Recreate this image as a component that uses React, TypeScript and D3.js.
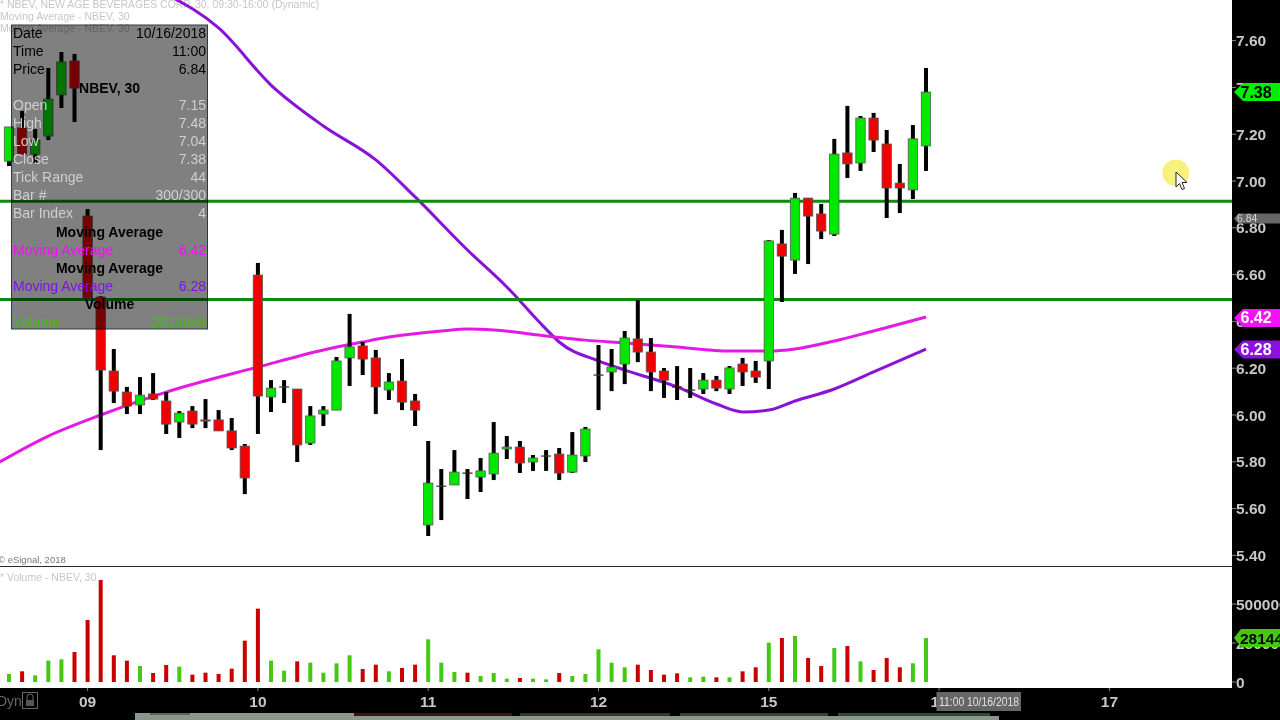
import React from "react";
import * as d3 from "d3";

const opens = [7.085,7.227,7.115,7.192,7.368,7.513,6.850,6.504,6.188,6.098,6.043,6.090,6.060,5.970,6.017,5.979,5.979,5.932,5.867,6.598,6.077,6.120,6.111,5.880,6.004,6.021,6.244,6.295,6.244,6.107,6.145,6.060,5.530,5.696,5.701,5.752,5.735,5.748,5.855,5.863,5.799,5.825,5.833,5.756,5.825,6.171,6.184,6.218,6.325,6.269,6.188,6.120,6.107,6.111,6.149,6.111,6.218,6.188,6.231,6.731,6.662,6.927,6.859,6.773,7.120,7.077,7.269,7.158,6.991,6.962,7.150];
const closes = [7.231,7.115,7.175,7.350,7.509,7.397,6.500,6.192,6.102,6.038,6.085,6.068,5.961,6.008,5.961,5.974,5.932,5.859,5.731,6.081,6.115,6.120,5.872,5.996,6.021,6.231,6.291,6.239,6.120,6.141,6.055,6.021,5.709,5.696,5.756,5.750,5.761,5.837,5.863,5.795,5.816,5.825,5.752,5.829,5.940,6.171,6.205,6.329,6.269,6.184,6.149,6.118,6.107,6.149,6.115,6.201,6.184,6.162,6.744,6.679,6.927,6.850,6.786,7.115,7.073,7.269,7.175,6.970,6.970,7.180,7.380];
const highs = [7.231,7.299,7.222,7.483,7.551,7.543,6.880,6.508,6.282,6.120,6.162,6.179,6.098,6.017,6.038,6.068,6.021,5.987,5.876,6.650,6.149,6.149,6.111,6.038,6.038,6.248,6.432,6.312,6.278,6.179,6.239,6.090,5.889,5.769,5.850,5.769,5.816,5.970,5.910,5.889,5.829,5.850,5.859,5.927,5.949,6.299,6.282,6.359,6.491,6.329,6.201,6.209,6.201,6.179,6.167,6.209,6.244,6.231,6.748,6.791,6.949,6.927,6.902,7.180,7.321,7.278,7.291,7.218,7.073,7.239,7.483];
const lows = [7.064,7.115,7.077,7.175,7.312,7.252,6.500,5.850,6.051,6.004,6.004,6.064,5.919,5.902,5.944,5.944,5.932,5.850,5.662,5.919,6.013,6.051,5.799,5.872,5.953,6.021,6.124,6.171,6.004,6.064,6.021,5.953,5.483,5.551,5.701,5.641,5.671,5.722,5.812,5.752,5.761,5.761,5.722,5.752,5.799,6.021,6.102,6.132,6.226,6.102,6.073,6.064,6.073,6.090,6.102,6.090,6.124,6.137,6.111,6.483,6.603,6.645,6.752,6.765,7.013,7.043,7.124,6.842,6.863,6.923,7.043];
const volumes = [513,684,427,1368,1453,1923,3975,6539,1710,1368,1026,577,1090,983,470,598,513,855,2650,4701,1368,727,1325,1239,598,1197,1710,833,1111,684,898,1111,2735,1239,641,598,385,577,214,256,214,171,577,385,513,2094,1239,940,1111,769,470,556,299,342,299,299,684,940,2522,2821,2949,1539,1026,2180,2308,1325,769,1539,940,1197,2814].map((v) => v * 1000);

const maFastBars = [-1,3,7,12,19,24,27,29,33,35,37,41,44,47,51,55,58,60,63,66,70];
const maFast = [5.790,5.910,6.000,6.098,6.205,6.278,6.312,6.333,6.359,6.367,6.363,6.338,6.320,6.308,6.291,6.273,6.273,6.282,6.316,6.359,6.419];
const maSlowBars = [12,16,20,24,28,31,35,38,41,42,45,47,51,54,56,58,60,63,66,70];
const maSlow = [7.799,7.654,7.410,7.235,7.090,6.932,6.705,6.547,6.367,6.312,6.231,6.192,6.120,6.047,6.013,6.021,6.060,6.111,6.184,6.282];

const levels = [6.913, 6.494];
const priceTicks = [5.4,5.6,5.8,6.0,6.2,6.4,6.6,6.8,7.0,7.2,7.4,7.6];
const volumeTicks = [0, 2500000, 5000000];
const dayLabels = ["09","10","11","12","15","16","17"];
const dayBars = [6,19,32,45,58,71,84];

const infoRows = [
  { label: "Date", value: "10/16/2018", color: "#000", row: 33 },
  { label: "Time", value: "11:00", color: "#000", row: 51 },
  { label: "Price", value: "6.84", color: "#000", row: 69 },
  { label: "Open", value: "7.15", color: "#cfcfcf", row: 105 },
  { label: "High", value: "7.48", color: "#cfcfcf", row: 123 },
  { label: "Low", value: "7.04", color: "#cfcfcf", row: 141 },
  { label: "Close", value: "7.38", color: "#cfcfcf", row: 159 },
  { label: "Tick Range", value: "44", color: "#cfcfcf", row: 177 },
  { label: "Bar #", value: "300/300", color: "#cfcfcf", row: 195 },
  { label: "Bar Index", value: "4", color: "#cfcfcf", row: 213 },
  { label: "Moving Average", value: "6.42", color: "#f012f0", row: 250 },
  { label: "Moving Average", value: "6.28", color: "#7f12e8", row: 286 },
  { label: "Volume", value: "2814459", color: "#46b81a", row: 322 },
];
const infoHeads = [
  { text: "NBEV, 30", row: 88 },
  { text: "Moving Average", row: 232 },
  { text: "Moving Average", row: 268 },
  { text: "Volume", row: 304 },
];

const GREEN = "#00e800";
const RED = "#f00000";
const VOL_GREEN = "#44c814";
const VOL_RED = "#c80000";
const SANS = "'Liberation Sans', Arial, sans-serif";

const x = d3.scaleLinear().domain([0, 70]).range([9, 926]);
const y = d3.scaleLinear().domain([5.4, 7.6]).range([555.4, 40.6]);
const v = d3.scaleLinear().domain([0, 5000000]).range([682, 604]);

const maLine = (bars: number[], vals: number[]) =>
  d3
    .line<number>()
    .x((_, i) => x(bars[i]))
    .y((d) => y(d))
    .curve(d3.curveMonotoneX)(vals) as string;

function PriceTag({ price, fill, label, color = "#fff" }: any) {
  const c = y(price);
  return (
    <g>
      <path d={`M1234 ${c} L1243 ${c - 9} H1280 V${c + 9} H1243 Z`} fill={fill} />
      <text x={1240.5} y={c + 5.5} fontFamily={SANS} fontSize={16} fontWeight="bold" fill={color}>{label}</text>
    </g>
  );
}

export default function App() {
  const n = opens.length;
  return (
    <svg width={1280} height={720} style={{ position: "fixed", left: 0, top: 0, background: "#fff" }} fontFamily={SANS}>
      <defs>
        <clipPath id="plot"><rect x={0} y={0} width={1232} height={566} /></clipPath>
      </defs>

      <text x={0} y={8} fontSize={10.5} fill="#c6c6c6">* NBEV, NEW AGE BEVERAGES CORP, 30, 09:30-16:00 (Dynamic)</text>
      <text x={0} y={20} fontSize={10.5} fill="#c6c6c6">Moving Average - NBEV, 30</text>
      <text x={0} y={32} fontSize={10.5} fill="#c6c6c6">Moving Average - NBEV, 30</text>

      <g clipPath="url(#plot)">
        <path d={maLine(maSlowBars, maSlow)} fill="none" stroke="#8a12d6" strokeWidth={3} />
        <path d={maLine(maFastBars, maFast)} fill="none" stroke="#e41ae4" strokeWidth={3} />
        {levels.map((l) => (
          <line key={l} x1={0} x2={1232} y1={y(l)} y2={y(l)} stroke="#0f8a0f" strokeWidth={3} />
        ))}
        {opens.map((o, i) => {
          const c = closes[i];
          const up = c >= o;
          const top = y(Math.max(o, c));
          const bot = y(Math.min(o, c));
          const doji = Math.abs(o - c) < 0.003;
          return (
            <g key={i}>
              <rect x={x(i) - 2} y={y(highs[i])} width={4} height={y(lows[i]) - y(highs[i])} fill="#000" />
              {doji ? (
                <rect x={x(i) - 5} y={top - 0.5} width={10} height={1.2} fill={up ? "#2a3a2a" : "#4a1010"} />
              ) : (
                <rect x={x(i) - 4.7} y={top} width={9.4} height={Math.max(1, bot - top)} fill={up ? GREEN : RED} stroke="#5a5a5a" strokeWidth={0.8} />
              )}
            </g>
          );
        })}
      </g>

      {/* data window */}
      <rect x={11.5} y={25} width={196} height={304} fill="#808080" stroke="#2e3a48" strokeWidth={1} style={{ mixBlendMode: "multiply" }} />
      {infoRows.map((r) => (
        <g key={r.row} fontSize={14} fill={r.color}>
          <text x={13} y={r.row + 5}>{r.label}</text>
          <text x={206} y={r.row + 5} textAnchor="end">{r.value}</text>
        </g>
      ))}
      {infoHeads.map((h) => (
        <text key={h.row} x={109.5} y={h.row + 5} fontSize={14} fontWeight="bold" fill="#000" textAnchor="middle">{h.text}</text>
      ))}

      <text x={-2} y={562.5} fontSize={9.5} fill="#777">© eSignal, 2018</text>

      {/* volume pane */}
      <text x={0} y={581} fontSize={10.5} fill="#c6c6c6">* Volume - NBEV, 30</text>
      {volumes.map((val, i) => (
        <rect key={i} x={x(i) - 2} y={v(val)} width={4} height={v(0) - v(val)} fill={closes[i] >= opens[i] ? VOL_GREEN : VOL_RED} />
      ))}
      <line x1={0} x2={1232} y1={566.5} y2={566.5} stroke="#2a2a2a" strokeWidth={1.2} />

      {/* cursor */}
      <circle cx={1175.7} cy={172.7} r={13.3} fill="#f6f07c" />
      <path d="M1176 172 V187 L1179.5 183.5 L1182 189.5 L1184.5 188.5 L1182 182.5 L1187 182.5 Z" fill="#fff" stroke="#222" strokeWidth={1} />

      {/* price axis */}
      <rect x={1232} y={0} width={48} height={720} fill="#000" />
      {priceTicks.map((t) => (
        <g key={t}>
          <line x1={1232} x2={1236} y1={y(t)} y2={y(t)} stroke="#888" />
          <text x={1236} y={y(t) + 5.5} fontSize={15.5} fontWeight="bold" fill="#c8c8c8">{d3.format(".2f")(t)}</text>
        </g>
      ))}
      <PriceTag price={closes[n - 1]} fill="#00f000" label="7.38" color="#000" />
      <path d={`M1234 ${y(6.84)} L1238 ${y(6.84) - 5} H1280 V${y(6.84) + 5} H1238 Z`} fill="#666" />
      <text x={1237} y={y(6.84) + 4} fontSize={10.5} fill="#ddd">6.84</text>
      <PriceTag price={6.415} fill="#f312f3" label="6.42" />
      <PriceTag price={6.28} fill="#8a12e0" label="6.28" />

      {volumeTicks.map((t) => (
        <g key={t}>
          <line x1={1232} x2={1236} y1={v(t)} y2={v(t)} stroke="#888" />
          <text x={1236} y={v(t) + 5.5} fontSize={15.5} fontWeight="bold" fill="#c8c8c8">{t}</text>
        </g>
      ))}
      <path d={`M1234 ${v(2814459)} L1241 ${v(2814459) - 9} H1280 V${v(2814459) + 9} H1241 Z`} fill={VOL_GREEN} />
      <text x={1240} y={v(2814459) + 5.5} fontSize={15.5} fontWeight="bold" fill="#000">2814459</text>

      {/* time axis */}
      <rect x={0} y={688} width={1232} height={32} fill="#000" />
      {dayLabels.map((d, i) => (
        <g key={d}>
          <line x1={x(dayBars[i])} x2={x(dayBars[i])} y1={688} y2={691} stroke="#888" />
          <text x={x(dayBars[i])} y={706.5} fontSize={15.5} fontWeight="bold" fill="#c8c8c8" textAnchor="middle">{d}</text>
        </g>
      ))}
      <rect x={936.5} y={692} width={84.5} height={19} fill="#666" />
      <text x={939} y={705.5} fontSize={12} fill="#e0e0e0" textLength={80} lengthAdjust="spacingAndGlyphs">11:00 10/16/2018</text>
      <text x={-3} y={705.5} fontSize={14} fill="#666">Dyn</text>
      <rect x={22.5} y={692.5} width={15} height={16} fill="none" stroke="#666" />
      <path d="M27 700 V697 a3 3 0 0 1 6 0 V700" fill="none" stroke="#666" />
      <rect x={26} y={700} width={8} height={6} fill="#555" />

      {/* scrollbar */}
      <rect x={135} y={713} width={864} height={7} fill="#8b978b" />
      <rect x={150} y={713} width={40} height={2} fill="#5c665c" />
      <rect x={354} y={713} width={158} height={3} fill="#3c1416" />
      <rect x={512} y={713} width={8} height={3} fill="#000" />
      <rect x={520} y={713} width={150} height={3} fill="#343434" />
      <rect x={670} y={713} width={10} height={3} fill="#000" />
      <rect x={680} y={713} width={148} height={3} fill="#3a3f3a" />
      <rect x={828} y={713} width={10} height={3} fill="#000" />
      <rect x={838} y={713} width={152} height={3} fill="#2f4a33" />
      <rect x={990} y={713} width={9} height={3} fill="#000" />
    </svg>
  );
}
